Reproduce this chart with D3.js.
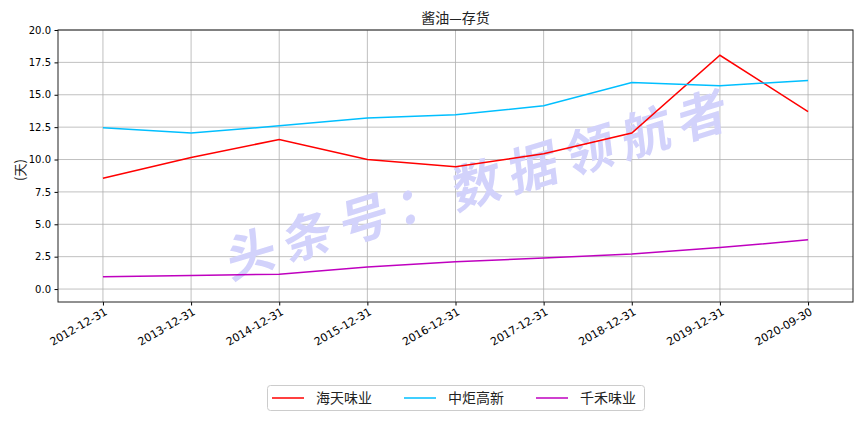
<!DOCTYPE html>
<html>
<head>
<meta charset="utf-8">
<script src="https://cdn.jsdelivr.net/npm/d3@7"></script>
<style>
  body { margin: 0; background: #fff; }
  text { font-family: "DejaVu Sans", sans-serif; }
  .cjk { font-family: "Noto Sans CJK SC", sans-serif; }
</style>
</head>
<body>
<svg id="chart" width="864" height="432"></svg>
<script>
const dates = ["2012-12-31", "2013-12-31", "2014-12-31", "2015-12-31", "2016-12-31",
  "2017-12-31", "2018-12-31", "2019-12-31", "2020-09-30"];
const haitian = [8.55, 10.15, 11.55, 10.0, 9.45, 10.45, 12.05, 18.05, 13.7];
const zhongju = [12.45, 12.05, 12.6, 13.2, 13.45, 14.15, 15.95, 15.7, 16.1];
const qianhe = [0.95, 1.05, 1.15, 1.7, 2.1, 2.4, 2.7, 3.2, 3.8];
const seriesNames = ["海天味业", "中炬高新", "千禾味业"];
const seriesColors = ["#ff0000", "#00bfff", "#bf00bf"];
const yTicks = [0, 2.5, 5, 7.5, 10, 12.5, 15, 17.5, 20];

const svg = d3.select("#chart");
const m = {left: 58, right: 853, top: 30, bottom: 302};

const x = d3.scaleLinear().domain([-0.51, 8.51]).range([m.left, m.right]);
const y = d3.scaleLinear().domain([-1, 20]).range([m.bottom, m.top]);

// grid
const grid = svg.append("g");
grid.selectAll(".gx").data(dates).enter().append("line")
  .attr("x1", (d, i) => x(i)).attr("x2", (d, i) => x(i))
  .attr("y1", m.top).attr("y2", m.bottom)
  .attr("stroke", "#b0b0b0").attr("stroke-width", 0.8);
grid.selectAll(".gy").data(yTicks).enter().append("line")
  .attr("x1", m.left).attr("x2", m.right)
  .attr("y1", d => y(d)).attr("y2", d => y(d))
  .attr("stroke", "#b0b0b0").attr("stroke-width", 0.8);

// watermark
svg.append("text")
  .attr("class", "cjk")
  .attr("transform", "translate(482,188) rotate(-17) skewX(-10)")
  .attr("text-anchor", "middle")
  .attr("dominant-baseline", "middle")
  .attr("font-size", 50)
  .attr("font-weight", "bold")
  .attr("fill", "#d2d2fb")
  .attr("letter-spacing", 9)
  .text("头条号：数据领航者");

// lines
const allSeries = [haitian, zhongju, qianhe];
const line = d3.line().x((d, i) => x(i)).y(d => y(d));
svg.append("g").selectAll("path").data(allSeries).enter().append("path")
  .attr("d", line)
  .attr("fill", "none")
  .attr("stroke", (d, i) => seriesColors[i])
  .attr("stroke-width", 1.5);

// axes
const xAxis = svg.append("g")
  .attr("transform", `translate(0,${m.bottom})`)
  .call(d3.axisBottom(x).tickValues(d3.range(dates.length)).tickFormat(i => dates[i]).tickSize(3.5).tickPadding(3));
xAxis.select(".domain").remove();
xAxis.selectAll("text")
  .attr("font-size", 11)
  .attr("fill", "#000")
  .attr("text-anchor", "end")
  .attr("dy", "0.6em")
  .attr("transform", "rotate(-30)")
  .attr("x", -2).attr("y", 6);

const yAxis = svg.append("g")
  .attr("transform", `translate(${m.left},0)`)
  .call(d3.axisLeft(y).tickValues(yTicks).tickFormat(d3.format(".1f")).tickSize(3.5).tickPadding(3.5));
yAxis.select(".domain").remove();
yAxis.selectAll("text").attr("font-size", 10).attr("fill", "#000");

svg.append("rect")
  .attr("x", m.left).attr("y", m.top)
  .attr("width", m.right - m.left).attr("height", m.bottom - m.top)
  .attr("fill", "none").attr("stroke", "#222").attr("stroke-width", 1);

// title and y label
svg.append("text").attr("class", "cjk")
  .attr("x", (m.left + m.right) / 2).attr("y", 23)
  .attr("text-anchor", "middle").attr("font-size", 14).attr("fill", "#222")
  .text("酱油—存货");
svg.append("text").attr("class", "cjk")
  .attr("transform", "translate(25,170) rotate(-90)")
  .attr("text-anchor", "middle").attr("font-size", 13).attr("fill", "#222")
  .text("(天)");

// legend
const lg = svg.append("g");
lg.append("rect").attr("x", 267.5).attr("y", 385.5).attr("width", 377).attr("height", 25)
  .attr("rx", 3).attr("fill", "#fff").attr("stroke", "#ccc");
const lx = [272, 404, 536];
seriesNames.forEach((name, i) => {
  lg.append("line").attr("x1", lx[i]).attr("x2", lx[i] + 32).attr("y1", 398).attr("y2", 398)
    .attr("stroke", seriesColors[i]).attr("stroke-width", 1.5);
  lg.append("text").attr("class", "cjk").attr("x", lx[i] + 44).attr("y", 403)
    .attr("font-size", 14).attr("fill", "#222").text(name);
});
</script>
</body>
</html>
